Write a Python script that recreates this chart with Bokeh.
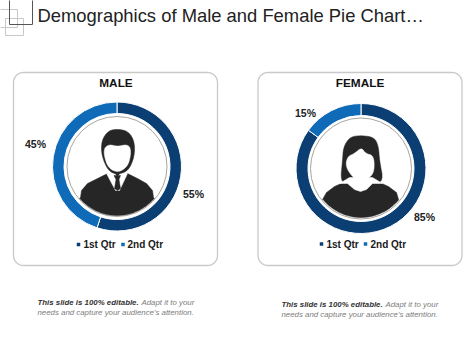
import numpy as np
from bokeh.plotting import figure
from bokeh.models import Range1d
from bokeh.core.properties import value
from bokeh.embed import file_html
from bokeh.resources import INLINE

# ---- chart data ----
title_text = "Demographics of Male and Female Pie Chart…"
panel_names = ["MALE", "FEMALE"]
categories = ["1st Qtr", "2nd Qtr"]
male_values = [55, 45]
female_values = [85, 15]
series_colors = ["#0b3f74", "#0f6bb8"]
note_bold = "This slide is 100% editable."
note_grey_1 = "Adapt it to your"
note_grey_2 = "needs and capture your audience's attention."

FONT = value("Liberation Sans")
H = 355


def Y(y):
    return H - np.asarray(y, dtype=float)


p = figure(width=474, height=355, x_range=Range1d(0, 474), y_range=Range1d(0, 355),
           output_backend="svg", toolbar_location=None, min_border=0,
           outline_line_color=None, background_fill_color="white")
p.axis.visible = False
p.grid.visible = False


def txt(x, y, s, size, color="#1a1a1a", style="normal", align="left"):
    p.text([x], [Y(y)], text=[s], text_font=FONT, text_font_size=f"{size}px",
           text_font_style=style, text_color=color, text_align=align,
           text_baseline="middle")


def round_rect(x0, y0, x1, y1, r, color="#c9c9c9"):
    xs, ys = [], []
    for cx, cy, a0 in [(x1 - r, y0 + r, -90), (x1 - r, y1 - r, 0), (x0 + r, y1 - r, 90), (x0 + r, y0 + r, 180)]:
        t = np.radians(np.linspace(a0, a0 + 90, 12))
        xs += list(cx + r * np.cos(t))
        ys += list(cy + r * np.sin(t))
    p.patch(xs, Y(ys), fill_color="white", line_color=color, line_width=1.3)


def body_patch(cx, cy, r, top_pts, color):
    # top outline, left to right, closed along the bottom of the inner circle
    xs = [q[0] for q in top_pts]
    ys = [q[1] for q in top_pts]
    a0 = np.arctan2(ys[-1] - cy, xs[-1] - cx)
    a1 = np.arctan2(ys[0] - cy, xs[0] - cx)
    t = np.linspace(a0, a1, 30)
    xs += list(cx + r * np.cos(t))
    ys += list(cy + r * np.sin(t))
    p.patch(xs, Y(ys), fill_color=color, line_color=color, line_width=0.5)


def smooth(pts, rounds=2):
    # corner cutting, so that hand-placed outlines read as curves
    a = np.array(pts, dtype=float)
    for _ in range(rounds):
        b = np.roll(a, -1, axis=0)
        a = np.column_stack([0.75 * a + 0.25 * b, 0.25 * a + 0.75 * b]).reshape(-1, 2)
    return a


def poly(pts, color, curved=False):
    a = smooth(pts) if curved else np.array(pts, dtype=float)
    p.patch(a[:, 0], Y(a[:, 1]), fill_color=color, line_color=color, line_width=0.5)


def donut(cx, cy, R, r, vals):
    v = np.array(vals, dtype=float)
    edges = np.pi / 2 - np.concatenate([[0], np.cumsum(v)]) / v.sum() * 2 * np.pi
    p.annular_wedge([cx] * len(v), Y([cy] * len(v)), inner_radius=r, outer_radius=R,
                    start_angle=edges[1:], end_angle=edges[:-1],
                    fill_color=series_colors, line_color="white", line_width=1)


# title and decorative squares
for x0, y0, x1, y1, c in [(-2, 9, 17, 27, "#c8c8c8"), (5, 18, 23, 35, "#c8c8c8"), (9, -3, 32, 24, "#555555")]:
    p.line([x0, x1, x1, x0, x0], Y([y0, y0, y1, y1, y0]), line_color=c, line_width=1)
p.text([37], [Y(15)], text=[title_text], text_font=FONT, text_font_size="18.4px",
       text_color="#222222", text_baseline="middle")

# panels
round_rect(13, 72, 217, 265, 10)
round_rect(257.5, 72, 461.5, 265, 10)
txt(115.5, 82, panel_names[0], 11.8, "#111111", "bold", "center")
txt(359.5, 82, panel_names[1], 11.8, "#111111", "bold", "center")

# donuts
donut(116.5, 166, 64.5, 53, male_values)
donut(360.5, 168, 65, 53, female_values)
p.circle([116.5], Y([166]), radius=50, fill_color="white", line_color="#a8a4a0", line_width=1)
p.circle([360.5], Y([168]), radius=50.5, fill_color="white", line_color="#a8a4a0", line_width=1)

# male icon
ink = "#262626"
mcx, mcy = 116.5, 166
body_patch(mcx, mcy, 49, [(80, 197), (81, 190), (87, 183), (97, 178), (107, 173), (127, 173), (137, 178),
                          (146, 183), (152, 190), (153, 197)], ink)
poly([(106, 173), (112, 171), (117, 176), (122, 171), (127, 173), (119, 190), (115, 190)], "white")
poly([(113.5, 175), (120, 175), (118.5, 179), (120, 188), (117, 190), (114, 188), (115.5, 179)], ink)
poly([(101, 155), (101, 140), (108, 130), (118, 128.5), (128, 131), (134, 141), (134, 156),
      (128, 170), (118, 174), (108, 171)], ink, curved=True)
poly([(103.5, 155), (104, 147), (109, 144), (117, 146), (126, 144), (130, 147), (130, 156),
      (127, 166), (118, 172), (108, 168)], "white", curved=True)

# female icon
fcx, fcy = 360.5, 168
poly([(340, 181), (342, 160), (343, 146), (350, 136), (362, 135), (374, 137), (378, 146), (379, 160),
      (383, 181), (372, 183), (348, 183)], ink, curved=True)
body_patch(fcx, fcy, 49, [(322, 199), (326, 192), (334, 186), (343, 182), (350, 178), (372, 178), (379, 182),
                          (388, 186), (396, 192), (398, 199)], ink)
poly([(339, 183), (349, 177), (372, 177), (382, 183), (372, 183), (366, 189), (360, 191), (354, 189), (347, 183)], "white")
poly([(345, 166), (347, 156), (354, 153), (361, 147), (365, 153), (373, 155), (374, 168),
      (371, 176), (362, 180), (353, 178)], "white", curved=True)

# percentage labels
txt(35, 143, f"{male_values[1]}%", 10.5, "#222222", "bold", "center")
txt(193, 193, f"{male_values[0]}%", 10.5, "#222222", "bold", "center")
txt(305, 112, f"{female_values[1]}%", 10.5, "#222222", "bold", "center")
txt(424, 216, f"{female_values[0]}%", 10.5, "#222222", "bold", "center")

# legends
for mx, tx, ly, name, col in [(78, 83, 244, categories[0], series_colors[0]),
                              (122.5, 127, 244, categories[1], series_colors[1]),
                              (321, 326, 243.5, categories[0], series_colors[0]),
                              (365, 370, 243.5, categories[1], series_colors[1])]:
    p.rect([mx], Y([ly]), width=3.5, height=3.5, fill_color=col, line_color=None)
    txt(tx, ly, name, 10, "#1a1a1a", "bold")

# notes
for x, y, gx in [(37, 302, 141), (281, 304, 385)]:
    txt(x, y, note_bold, 7.85, "#333333", "bold italic")
    txt(gx, y, note_grey_1, 7.85, "#7c7c7c", "italic")
    txt(x, y + 9.5, note_grey_2, 7.85, "#7c7c7c", "italic")

open("out.html", "w").write(file_html(p, INLINE))
